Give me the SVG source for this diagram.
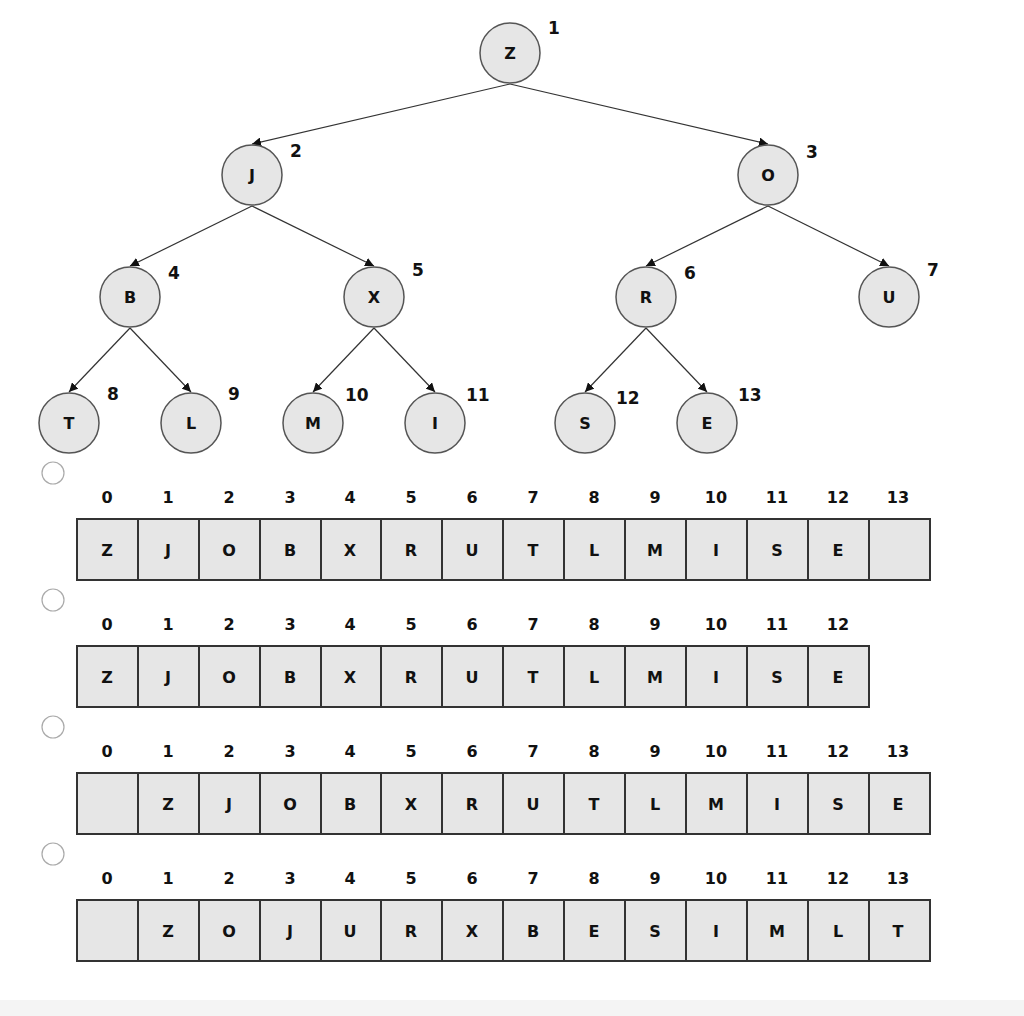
<svg xmlns="http://www.w3.org/2000/svg" width="1024" height="1016" viewBox="0 0 1024 1016">
<style>
.n circle{fill:#e6e6e6;stroke:#555;stroke-width:1.5}
text{font-family:"DejaVu Sans",Verdana,sans-serif;font-weight:bold;font-size:17px;fill:#111}
.c{text-anchor:middle;dominant-baseline:central;font-size:16px}
.e line{stroke:#333;stroke-width:1.2;marker-end:url(#a)}
.cell{fill:#e6e6e6;stroke:#333;stroke-width:2}
.r{fill:#fff;stroke:#aaa;stroke-width:1.2}
</style>
<defs><marker id="a" viewBox="0 0 10 10" refX="10" refY="5" markerWidth="9" markerHeight="9" markerUnits="userSpaceOnUse" orient="auto"><path d="M0,0L10,5L0,10z" fill="#111"/></marker></defs>
<rect width="1024" height="1016" fill="#fff"/>
<rect y="1000" width="1024" height="16" fill="#f4f4f4"/>
<g class="e">
<line x1="510" y1="84" x2="252" y2="144"/><line x1="510" y1="84" x2="768" y2="144"/>
<line x1="252" y1="206" x2="130" y2="266"/><line x1="252" y1="206" x2="374" y2="266"/>
<line x1="768" y1="206" x2="646" y2="266"/><line x1="768" y1="206" x2="889" y2="266"/>
<line x1="130" y1="328" x2="69" y2="392"/><line x1="130" y1="328" x2="191" y2="392"/>
<line x1="374" y1="328" x2="313" y2="392"/><line x1="374" y1="328" x2="435" y2="392"/>
<line x1="646" y1="328" x2="585" y2="392"/><line x1="646" y1="328" x2="707" y2="392"/>
</g>
<g id="nZ" class="n"><circle cx="510" cy="53" r="30"/><text class="c" x="510" y="53">Z</text><text x="548" y="34">1</text></g>
<g id="nJ" class="n"><circle cx="252" cy="175" r="30"/><text class="c" x="252" y="175">J</text><text x="290" y="157">2</text></g>
<g id="nO" class="n"><circle cx="768" cy="175" r="30"/><text class="c" x="768" y="175">O</text><text x="806" y="158">3</text></g>
<g id="nB" class="n"><circle cx="130" cy="297" r="30"/><text class="c" x="130" y="297">B</text><text x="168" y="279">4</text></g>
<g id="nX" class="n"><circle cx="374" cy="297" r="30"/><text class="c" x="374" y="297">X</text><text x="412" y="276">5</text></g>
<g id="nR" class="n"><circle cx="646" cy="297" r="30"/><text class="c" x="646" y="297">R</text><text x="684" y="279">6</text></g>
<g id="nU" class="n"><circle cx="889" cy="297" r="30"/><text class="c" x="889" y="297">U</text><text x="927" y="276">7</text></g>
<g id="nT" class="n"><circle cx="69" cy="423" r="30"/><text class="c" x="69" y="423">T</text><text x="107" y="400">8</text></g>
<g id="nL" class="n"><circle cx="191" cy="423" r="30"/><text class="c" x="191" y="423">L</text><text x="228" y="400">9</text></g>
<g id="nM" class="n"><circle cx="313" cy="423" r="30"/><text class="c" x="313" y="423">M</text><text x="345" y="401">10</text></g>
<g id="nI" class="n"><circle cx="435" cy="423" r="30"/><text class="c" x="435" y="423">I</text><text x="466" y="401">11</text></g>
<g id="nS" class="n"><circle cx="585" cy="423" r="30"/><text class="c" x="585" y="423">S</text><text x="616" y="404">12</text></g>
<g id="nE" class="n"><circle cx="707" cy="423" r="30"/><text class="c" x="707" y="423">E</text><text x="738" y="401">13</text></g>
<g id="opt1">
<circle class="r" cx="53" cy="473" r="11"/>
<g class="c"><text class="c" x="107" y="497">0</text><text class="c" x="168" y="497">1</text><text class="c" x="229" y="497">2</text><text class="c" x="290" y="497">3</text><text class="c" x="350" y="497">4</text><text class="c" x="411" y="497">5</text><text class="c" x="472" y="497">6</text><text class="c" x="533" y="497">7</text><text class="c" x="594" y="497">8</text><text class="c" x="655" y="497">9</text><text class="c" x="716" y="497">10</text><text class="c" x="777" y="497">11</text><text class="c" x="838" y="497">12</text><text class="c" x="898" y="497">13</text></g>
<rect class="cell" x="77" y="519" width="853" height="61"/>
<path d="M138,519v61M199,519v61M260,519v61M321,519v61M381,519v61M442,519v61M503,519v61M564,519v61M625,519v61M686,519v61M747,519v61M808,519v61M869,519v61" stroke="#333" stroke-width="2"/>
<text class="c" x="107" y="550">Z</text><text class="c" x="168" y="550">J</text><text class="c" x="229" y="550">O</text><text class="c" x="290" y="550">B</text><text class="c" x="350" y="550">X</text><text class="c" x="411" y="550">R</text><text class="c" x="472" y="550">U</text><text class="c" x="533" y="550">T</text><text class="c" x="594" y="550">L</text><text class="c" x="655" y="550">M</text><text class="c" x="716" y="550">I</text><text class="c" x="777" y="550">S</text><text class="c" x="838" y="550">E</text>
</g>
<g id="opt2">
<circle class="r" cx="53" cy="600" r="11"/>
<text class="c" x="107" y="624">0</text><text class="c" x="168" y="624">1</text><text class="c" x="229" y="624">2</text><text class="c" x="290" y="624">3</text><text class="c" x="350" y="624">4</text><text class="c" x="411" y="624">5</text><text class="c" x="472" y="624">6</text><text class="c" x="533" y="624">7</text><text class="c" x="594" y="624">8</text><text class="c" x="655" y="624">9</text><text class="c" x="716" y="624">10</text><text class="c" x="777" y="624">11</text><text class="c" x="838" y="624">12</text>
<rect class="cell" x="77" y="646" width="792" height="61"/>
<path d="M138,646v61M199,646v61M260,646v61M321,646v61M381,646v61M442,646v61M503,646v61M564,646v61M625,646v61M686,646v61M747,646v61M808,646v61" stroke="#333" stroke-width="2"/>
<text class="c" x="107" y="677">Z</text><text class="c" x="168" y="677">J</text><text class="c" x="229" y="677">O</text><text class="c" x="290" y="677">B</text><text class="c" x="350" y="677">X</text><text class="c" x="411" y="677">R</text><text class="c" x="472" y="677">U</text><text class="c" x="533" y="677">T</text><text class="c" x="594" y="677">L</text><text class="c" x="655" y="677">M</text><text class="c" x="716" y="677">I</text><text class="c" x="777" y="677">S</text><text class="c" x="838" y="677">E</text>
</g>
<g id="opt3">
<circle class="r" cx="53" cy="727" r="11"/>
<text class="c" x="107" y="751">0</text><text class="c" x="168" y="751">1</text><text class="c" x="229" y="751">2</text><text class="c" x="290" y="751">3</text><text class="c" x="350" y="751">4</text><text class="c" x="411" y="751">5</text><text class="c" x="472" y="751">6</text><text class="c" x="533" y="751">7</text><text class="c" x="594" y="751">8</text><text class="c" x="655" y="751">9</text><text class="c" x="716" y="751">10</text><text class="c" x="777" y="751">11</text><text class="c" x="838" y="751">12</text><text class="c" x="898" y="751">13</text>
<rect class="cell" x="77" y="773" width="853" height="61"/>
<path d="M138,773v61M199,773v61M260,773v61M321,773v61M381,773v61M442,773v61M503,773v61M564,773v61M625,773v61M686,773v61M747,773v61M808,773v61M869,773v61" stroke="#333" stroke-width="2"/>
<text class="c" x="168" y="804">Z</text><text class="c" x="229" y="804">J</text><text class="c" x="290" y="804">O</text><text class="c" x="350" y="804">B</text><text class="c" x="411" y="804">X</text><text class="c" x="472" y="804">R</text><text class="c" x="533" y="804">U</text><text class="c" x="594" y="804">T</text><text class="c" x="655" y="804">L</text><text class="c" x="716" y="804">M</text><text class="c" x="777" y="804">I</text><text class="c" x="838" y="804">S</text><text class="c" x="898" y="804">E</text>
</g>
<g id="opt4">
<circle class="r" cx="53" cy="854" r="11"/>
<text class="c" x="107" y="878">0</text><text class="c" x="168" y="878">1</text><text class="c" x="229" y="878">2</text><text class="c" x="290" y="878">3</text><text class="c" x="350" y="878">4</text><text class="c" x="411" y="878">5</text><text class="c" x="472" y="878">6</text><text class="c" x="533" y="878">7</text><text class="c" x="594" y="878">8</text><text class="c" x="655" y="878">9</text><text class="c" x="716" y="878">10</text><text class="c" x="777" y="878">11</text><text class="c" x="838" y="878">12</text><text class="c" x="898" y="878">13</text>
<rect class="cell" x="77" y="900" width="853" height="61"/>
<path d="M138,900v61M199,900v61M260,900v61M321,900v61M381,900v61M442,900v61M503,900v61M564,900v61M625,900v61M686,900v61M747,900v61M808,900v61M869,900v61" stroke="#333" stroke-width="2"/>
<text class="c" x="168" y="931">Z</text><text class="c" x="229" y="931">O</text><text class="c" x="290" y="931">J</text><text class="c" x="350" y="931">U</text><text class="c" x="411" y="931">R</text><text class="c" x="472" y="931">X</text><text class="c" x="533" y="931">B</text><text class="c" x="594" y="931">E</text><text class="c" x="655" y="931">S</text><text class="c" x="716" y="931">I</text><text class="c" x="777" y="931">M</text><text class="c" x="838" y="931">L</text><text class="c" x="898" y="931">T</text>
</g>
</svg>
